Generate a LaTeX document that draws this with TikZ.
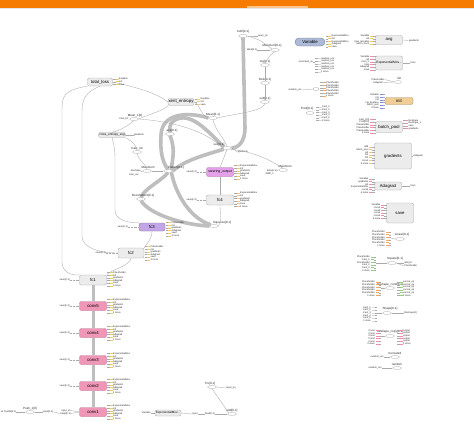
\documentclass[tikz,border=0pt]{standalone}
\usepackage{fontspec}
\setmainfont{Liberation Sans}
\usetikzlibrary{shapes.geometric}
\definecolor{topbar}{RGB}{245,124,0}
\definecolor{gfill}{RGB}{236,236,236}
\definecolor{gline}{RGB}{170,170,170}
\definecolor{convpink}{RGB}{240,150,182}
\definecolor{fcpurple}{RGB}{196,166,232}
\definecolor{steerpink}{RGB}{228,160,232}
\definecolor{varblue}{RGB}{172,186,216}
\definecolor{inittan}{RGB}{240,206,150}
\definecolor{dyel}{RGB}{240,200,110}
\definecolor{dpink}{RGB}{245,140,170}
\definecolor{dgreen}{RGB}{150,205,120}
\definecolor{dorange}{RGB}{248,165,95}
\definecolor{dblue}{RGB}{120,140,225}
\definecolor{bandgray}{RGB}{190,190,190}
\newcommand{\rlist}[4]{%
  \foreach \t [count=\i] in {#4}{%
    \pgfmathsetmacro{\yy}{#2+(\i-1)*2.7}
    \draw[wire] (#1,\yy) -- (#1+2.5,\yy);
    \draw[#3,line width=0.8pt] (#1+2.5,\yy) -- (#1+5.5,\yy);
    \node[lbl,anchor=west] at (#1+5.8,\yy) {\t};
  }}
\newcommand{\llist}[4]{%
  \foreach \t [count=\i] in {#4}{%
    \pgfmathsetmacro{\yy}{#2+(\i-1)*2.7}
    \draw[wire] (#1,\yy) -- (#1-2.5,\yy);
    \draw[#3,line width=0.8pt] (#1-2.5,\yy) -- (#1-5.5,\yy);
    \node[lbl,anchor=east] at (#1-5.8,\yy) {\t};
  }}
\begin{document}
\begin{tikzpicture}[x=1pt,y=-1pt,
 lbl/.style={font=\fontsize{2.4}{2.8}\selectfont,inner sep=0.2pt,text=black!85},
 oplbl/.style={font=\fontsize{3}{3.5}\selectfont,inner sep=0.2pt,text=black!85},
 op/.style={ellipse,draw=gline,fill=white,line width=0.3pt,minimum width=9pt,minimum height=3pt,inner sep=0pt},
 nbox/.style={rectangle,rounded corners=2pt,draw=gline,fill=gfill,line width=0.35pt,font=\fontsize{4.3}{5}\selectfont,inner sep=0pt,minimum width=27pt,minimum height=9pt},
 convbox/.style={nbox,fill=convpink,draw=convpink!75!black},
 wire/.style={draw=gline,line width=0.35pt},
 band/.style={draw=bandgray,line width=3.6pt},
 chain/.style={draw=bandgray,line width=3pt}]
\useasboundingbox (0,0) rectangle (474,445);
\fill[white] (0,0) rectangle (474,445);
\fill[topbar] (0,0) rectangle (474,7.5);
\fill[gray!20] (0,7.5) rectangle (474,8.3);
\fill[topbar!45!white] (247,6) rectangle (308,7.5);

% ---------- thick bands (behind) ----------
\node[op] (truth) at (243,36) {};
\node[op] (sub) at (227,148) {};
\node[op] (acc) at (170,134) {};
\node[op] (flat) at (168,171) {};
\node[op] (recon) at (141,199) {};
\node[op] (squeeze) at (214,226) {};
\node[op] (mean) at (213,118) {};
\draw[band] (truth.south) -- (245,128) .. controls (245,142) and (238,148) .. (sub.east);
\draw[band] (sub.north west) .. controls (205,128) and (190,112) .. (175,120) .. controls (168,124) and (170,130) .. (acc.north);
\draw[band] (mean.west) .. controls (190,112) and (162,112) .. (161,135) .. controls (160,150) and (162,162) .. (flat.north);
\draw[band] (acc.south) .. controls (176,150) and (172,160) .. (flat.north east);
\draw[band] (sub.south west) .. controls (205,155) and (185,160) .. (flat.east);
\draw[band] (flat.south) .. controls (160,182) and (145,188) .. (recon.north);
\draw[band] (recon.south) .. controls (150,215) and (185,225) .. (squeeze.west);
\draw[band] (flat.south east) .. controls (176,195) and (190,218) .. (squeeze.north west);

% ---------- main nodes ----------
\node[nbox,minimum width=25pt,minimum height=8pt] (total) at (100,82) {total\_loss};
\node[nbox,minimum width=26pt,minimum height=7pt] (xent) at (181,102) {xent\_entropy};
\node[nbox,minimum width=27pt,minimum height=5pt,font=\fontsize{3}{3.5}\selectfont] (cavg) at (112,135) {cross\_entropy\_avg};
\node[nbox,fill=varblue,draw=varblue!70!black,rounded corners=4pt,minimum width=30pt,minimum height=8pt] (variable) at (310,42) {Variable};
\node[nbox,minimum height=9pt] (avg) at (389,40) {avg};
\node[nbox,minimum height=14pt,font=\fontsize{3.2}{4}\selectfont] (expmov) at (389,63) {ExponentialMov...};
\node[nbox,fill=inittan,draw=inittan!70!black,minimum width=28pt,minimum height=7pt] (init) at (399,101) {init};
\node[nbox,minimum height=11pt] (bpool) at (389,127) {batch\_pool};
\node[nbox,minimum width=37pt,minimum height=26pt] (gradients) at (393,156) {gradients};
\node[nbox,minimum height=8pt] (adagrad) at (388,186) {Adagrad};
\node[nbox,minimum height=20pt] (save) at (400,213) {save};
\node[nbox,fill=fcpurple,draw=fcpurple!70!black,minimum width=26pt,minimum height=8pt] (fc3) at (152,227) {fc3};
\node[nbox,minimum width=26pt,minimum height=10pt] (fc2) at (131,253) {fc2};
\node[nbox,minimum height=10pt] (fc1) at (93,280) {fc1};
\node[convbox] (conv5) at (93,306) {conv5};
\node[convbox] (conv4) at (93,333) {conv4};
\node[convbox] (conv3) at (93,360) {conv3};
\node[convbox] (conv2) at (93,386) {conv2};
\node[convbox] (conv1) at (93,412) {conv1};
\node[nbox,fill=steerpink,draw=steerpink!70!black,font=\fontsize{3.4}{4}\selectfont] (steer) at (220,172) {steering\_output};
\node[nbox,minimum height=10pt] (fc4) at (220,200) {fc4};
\node[nbox,minimum width=26pt,minimum height=6pt,font=\fontsize{3}{3.5}\selectfont] (expb) at (168,413) {ExponentialMov...};

% ---------- small op nodes ----------
\node[op] (maxm) at (275,50) {};
\node[op] (logn) at (265,65) {};
\node[op] (relu) at (265,83) {};
\node[op] (subt) at (265,102) {};
\node[op] (castfd) at (134,119) {};
\node[op] (castnd) at (137,152) {};
\node[op] (maxs) at (147,171) {};
\node[op] (maxr) at (283,170) {};
\node[op] (tru) at (212,387) {};
\node[op] (add) at (232,414) {};
\node[op] (push) at (30,412) {};
\node[oplbl] (ltruth) at (243,31.5) {truth[0-1]};
\node[oplbl] (lmaxm) at (272,46) {Maximum[0-1]};
\node[oplbl] (llog) at (265,61.5) {log[0-1]};
\node[oplbl] (lrelu) at (265,79.5) {Relu[0-1]};
\node[oplbl] (lsubt) at (265,98.5) {sub[0-1]};
\node[oplbl] (lmean) at (213,114.5) {Mean[0-1]};
\node[oplbl] (lsub) at (219,144.5) {sub[0-1]};
\node[oplbl] (lacc) at (172,130.5) {acc[0-1]};
\node[oplbl] (lflat) at (176,167.5) {Flatten[0-1]};
\node[oplbl] (lrecon) at (143,195.5) {Reconstruct[0-1]};
\node[oplbl] (lsqueeze) at (222,222.5) {Squeeze[0-1]};
\node[oplbl] (lcastfd) at (135,115.5) {Mean\_1[0]};
\node[lbl,anchor=east] (tcastfd) at (128,119) {Cast\_fd};
\node[oplbl] (lcastnd) at (137,148.5) {Cast\_nd};
\node[oplbl] (lmaxs) at (148,167.5) {Maximum};
\node[lbl,anchor=east] (tmaxs1) at (141,171) {Reshape};
\node[lbl,anchor=east] (tmaxs2) at (139,174.5) {train\_var};
\node[oplbl] (lmaxr) at (285,166.5) {Maximum};
\node[lbl,anchor=east] (tmaxr1) at (277,170.5) {Relu[0-1]};
\node[lbl,anchor=east] (tmaxr2) at (274,173.5) {dabfl\_1};
\node[oplbl] (ltru) at (210,383.5) {Tru[0-1]};
\node[lbl,anchor=west] (ttru) at (226,388) {input\_pn};
\node[oplbl] (ladd) at (232,410.5) {add[0-1]};
\node[oplbl] (lpush) at (30,408.5) {Push\_1[0]};
\node[lbl,anchor=west] (tpush) at (0.5,412) {x1 PushB[0-1]};
\node[lbl] (tinput) at (48,412) {input[0-1]};
\node[lbl,anchor=east] (tconv1a) at (71,410.5) {input\_sh};
\node[lbl,anchor=east] (tconv1b) at (71,413.5) {label[0-1]};
\node[lbl] (tsubg) at (243,152) {gradients};
\node[lbl] (tcavg) at (139,135) {gradients};
\node[lbl,anchor=east] (tvarb) at (151,413) {Variable};
\node[lbl] (tinb) at (195,414) {input};
\node[lbl] (tfeed) at (210,414) {feed[0-1]};

% ---------- thin wires ----------
\draw[wire] (truth.east) -- (ltruth.east |- truth.east) -- (258,36);
\node[lbl,anchor=west] (ttruth) at (258,36) {learn\_pn};
\draw[wire] (truth.east) .. controls (260,40) .. (maxm.north west);
\node[lbl] (tmaxm) at (252,50) {Ident[0-1]};
\draw[wire] (tmaxm) -- (maxm.west);
\draw[wire] (maxm.south) .. controls (270,55) .. (logn.north);
\draw[wire] (logn.south) -- (relu.north);
\draw[wire] (relu.south) -- (subt.north);
\draw[wire] (subt.south) .. controls (262,112) and (232,114) .. (mean.east);
\draw[wire] (mean.west) .. controls (200,115) and (200,104) .. (xent.east);
\draw[wire] (mean.south) .. controls (215,130) and (224,138) .. (sub.north);
\draw[wire] (xent.south west) .. controls (165,110) and (150,114) .. (castfd.east);
\draw[wire] (castfd.east) .. controls (180,122) and (210,134) .. (sub.west);
\draw[wire] (castfd.south) .. controls (130,124) and (122,130) .. (cavg.north);
\draw[wire] (cavg.east) -- (tcavg.west);
\draw[wire] (cavg.south east) .. controls (130,140) and (136,144) .. (castnd.north);
\draw[wire] (castnd.south) .. controls (138,160) and (146,164) .. (maxs.north);
\draw[wire] (maxs.east) -- (flat.west);
\draw[wire] (tmaxs1.east) -- (maxs.west);
\draw[wire] (sub.east) -- (tsubg.west);
\draw[wire] (sub.south east) .. controls (255,152) and (270,160) .. (maxr.north);
\draw[wire] (tmaxr1.east) -- (maxr.west);
\draw[wire] (sub.south) -- (steer.north);
\draw[wire] (steer.south) -- (fc4.north);
\draw[wire] (fc4.south) .. controls (220,214) and (222,220) .. (squeeze.east);
\draw[wire] (total.east) .. controls (140,88) and (158,94) .. (xent.west);
\draw[wire] (total.south west) .. controls (64,90) and (62,96) .. (62,110) -- (62,262) .. controls (62,272) and (72,276) .. (fc1.north west);
\draw[wire] (total.south) .. controls (86,92) and (82,98) .. (82,112) -- (82,236) .. controls (82,248) and (100,253) .. (fc2.west);
\draw[wire] (cavg.south) .. controls (114,144) and (115,150) .. (115,160) -- (115,210) .. controls (115,220) and (128,223) .. (fc3.north west);
\draw[wire] (fc3.south) .. controls (152,240) and (146,244) .. (fc2.north east);
\draw[wire] (fc2.south) .. controls (130,266) and (110,270) .. (fc1.north east);
\draw[chain] (fc1.south) -- (conv5.north);
\draw[chain] (conv5.south) -- (conv4.north);
\draw[chain] (conv4.south) -- (conv3.north);
\draw[chain] (conv3.south) -- (conv2.north);
\draw[chain] (conv2.south) -- (conv1.north);
\draw[wire] (tpush.east) -- (push.west);
\draw[wire] (push.east) -- (tinput.west);
\draw[wire] (tinput.east) -- (tconv1b.west);
\draw[wire] (tconv1a.east) -- (conv1.west);
\draw[wire] (tconv1b.east) -- (conv1.west);
\draw[wire] (tvarb.east) -- (expb.west);
\draw[wire] (expb.east) -- (tinb.west);
\draw[wire] (tinb.east) -- (tfeed.west);
\draw[wire] (tfeed.east) -- (add.west);
\draw[wire] (tru.south) -- (add.north west);
\draw[wire] (tru.east) -- (ttru.west);

% ---------- save[0-1] labels on the left ----------
\foreach \n/\x in {fc3/128,fc2/106,fc1/70,conv5/70,conv4/70,conv3/70,conv2/70,steer/197,fc4/197}{
  \node[lbl,anchor=east] (s\n) at (\x,0 |- \n.west) {save[0-1]};
  \draw[wire,dashed,dash pattern=on 0.8pt off 0.6pt] (s\n.east) -- (\n.west);
}

% ---------- side lists of main nodes ----------
\rlist{113}{79}{dyel}{ExpMov,init,save}
\rlist{194.5}{99}{dyel}{ExpMov,init,save}
\rlist{165.5}{222.5}{dyel}{Placeholder,init,gradients,Adagrad,save,3 more}
\rlist{144.5}{246.5}{dyel}{Placeholder,init,gradients,Adagrad,save,3 more}
\rlist{107}{272.5}{dyel}{Placeholder,init,gradients,Adagrad,save,3 more}
\foreach \n in {conv5,conv4,conv3,conv2,conv1}{
  \path (\n.east) coordinate (e\n);
}
\rlist{107}{299.5}{dyel}{ExponentialMov,init,gradients,Adagrad,save,1 more}
\rlist{107}{326.5}{dyel}{ExponentialMov,init,gradients,Adagrad,save,1 more}
\rlist{107}{353.5}{dyel}{ExponentialMov,init,gradients,Adagrad,save,1 more}
\rlist{107}{379.5}{dyel}{ExponentialMov,init,gradients,Adagrad,save,1 more}
\rlist{107}{405.5}{dyel}{ExponentialMov,init,gradients,Adagrad,save,1 more}
\rlist{234}{165.5}{dyel}{ExponentialMov,init,gradients,Adagrad,save,1 more}
\rlist{234}{193}{dyel}{ExponentialMov,init,gradients,Adagrad,save,1 more}

% ---------- right column ----------
\rlist{325.5}{36}{dyel}{ExponentialMov,init,ExponentialMov,Adagrad,save}
\llist{375.5}{36}{dyel}{Variable,init,train\_ExpMov,batch\_norm}
\node[lbl] (tavg) at (414,40.5) {gradients};
\draw[wire] (avg.east) -- (tavg.west);
\llist{375.5}{56.5}{dpink}{Variable,init,train\_V,train,Adagrad,save}
\node[lbl] (texp) at (413,63) {train};
\draw[wire] (expmov.east) -- (texp.west);
\node[lbl] (trunc) at (306,62) {truncated\_no};
\rlist{315}{58.5}{gray!30}{random\_uni,random\_uni,random\_uni,random\_uni,random\_uni,1 more}
\draw[wire] (trunc.east) -- (315,62);
\node[lbl] (randa) at (295,90) {random\_uni};
\node[op,minimum width=6pt] (randop) at (316,89) {};
\draw[wire] (randa.east) -- (randop.west);
\rlist{320}{82.5}{dorange}{Placeholder,Placeholder,Placeholder,Placeholder,Placeholder,1 more}
\node[oplbl] (lprod) at (307,109) {Prod[0-1]};
\node[op,minimum width=8pt] (prod) at (310,113) {};
\rlist{316}{107}{gray!30}{Cast\_1,Cast\_2,Cast\_3,Cast\_4,Cast\_5,2 more}
\node[lbl] (tph1) at (378,79.5) {Placeholder};
\node[lbl] (tph2) at (378,82.5) {Adagrad};
\node[op,minimum width=7pt] (initop) at (398,82) {};
\node[oplbl] (linitop) at (399,78.5) {init};
\draw[wire] (tph1.east) -- (initop.west);
\draw[wire] (tph2.east) -- (initop.west);
\llist{385}{94.5}{dblue}{Variable,init,init,init\_ExpMov,batch\_pool,3 more}
\llist{375.5}{119.5}{dpink}{Cast\_1[0],Prod[0-1],Placeholder,Placeholder,Placeholder,2 more}
\rlist{402.5}{120.5}{dpink}{Reshape,Reshape\_1,save,gradients}
\llist{374.5}{147}{dyel}{add,batch\_pool,init,fc1,fc2,conv1,9 more}
\node[lbl] (tgrad) at (418,156) {Adagrad};
\draw[wire] (gradients.east) -- (tgrad.west);
\llist{374.5}{179}{dpink}{Variable,gradients,init,ExponentialMov,conv5,4 more}
\node[lbl] (tada) at (413,186) {train};
\draw[wire] (adagrad.east) -- (tada.west);
\llist{386.5}{205}{dpink}{Variable,conv1,conv2,conv3,conv4,6 more}
% lower groups
\node[op] (linop) at (400,239) {};
\node[oplbl] (llin) at (402,235) {Linear[0-1]};
\llist{391}{232}{dorange}{Placeholder,Placeholder,Placeholder,Placeholder,Placeholder,1 more}
\draw[wire] (391,238) -- (linop.west);
\node[op] (sqop) at (392,263) {};
\node[oplbl] (lsq) at (395,259) {Square[0-1]};
\llist{376}{257}{dgreen}{Placeholder,Cast\_1,Placeholder,Cast\_2,Cast\_3,2 more}
\draw[wire] (376,263) -- (sqop.west);
\node[lbl,anchor=west] (tsq1) at (404,263) {add\_M};
\node[lbl,anchor=west] (tsq2) at (404,266) {Placeholder};
\draw[wire] (sqop.east) -- (tsq1.west);
\draw[wire] (sqop.east) -- (tsq2.west);
\node[op] (rsop) at (390,288) {};
\node[oplbl] (lrs) at (390,284.5) {Reshape\_cond[0-1]};
\llist{381}{282}{dorange}{Placeholder,Placeholder,Placeholder,Placeholder,Placeholder,1 more}
\draw[wire] (381,288) -- (rsop.west);
\rlist{397}{282}{dgreen}{concat\_op,concat\_op,concat\_op,concat\_op,concat\_op,1 more}
\node[op] (shop) at (387,313) {};
\node[oplbl] (lsh) at (390,309) {Shape[0-1]};
\llist{377}{307.5}{gray!30}{Cast\_1,Cast\_2,Cast\_3,Cast\_4,Cast\_5,1 more}
\draw[wire] (377,313) -- (shop.west);
\node[lbl,anchor=west] (tsh) at (404,313) {Reshape[1]};
\draw[wire] (shop.east) -- (tsh.west);
\node[op] (cpop) at (390,336) {};
\node[oplbl] (lcp) at (390,332) {Reshape\_copy[0-1]};
\llist{381}{330.5}{dpink}{Const,Const,Const,Const,Const,3 more}
\draw[wire] (381,336) -- (cpop.west);
\rlist{397}{330.5}{dpink}{output,output,output,output,output,1 more}
\node[lbl] (tru1) at (377,357) {random\_uni};
\node[op] (ru1) at (395,357) {};
\node[oplbl] (lru1) at (395,353.5) {truncated};
\draw[wire] (tru1.east) -- (ru1.west);
\node[lbl] (tru2) at (375,368) {random\_uni};
\node[op] (ru2) at (397,368) {};
\node[oplbl] (lru2) at (397,364.5) {random};
\draw[wire] (tru2.east) -- (ru2.west);
\end{tikzpicture}
\end{document}
